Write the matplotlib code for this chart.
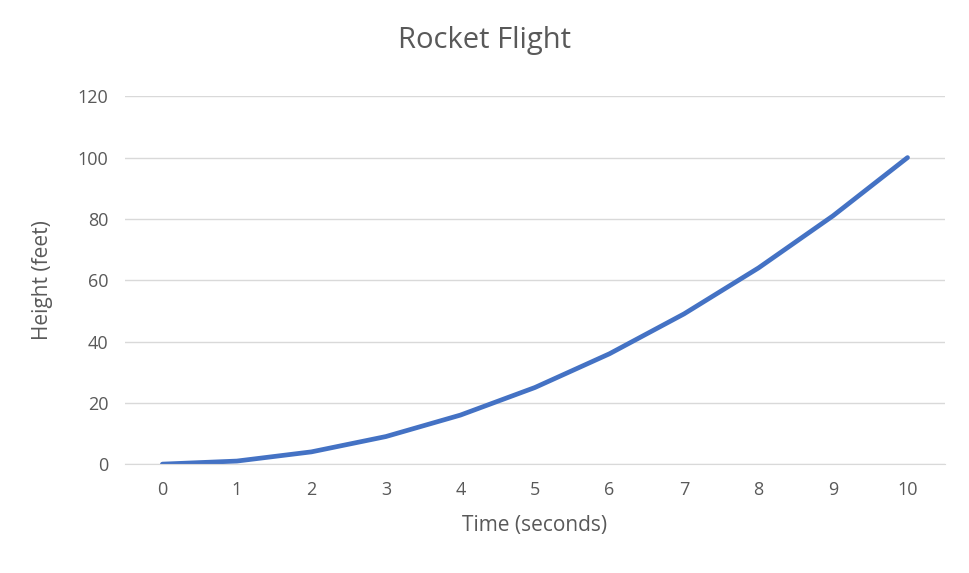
import matplotlib
matplotlib.use("Agg")
import matplotlib.pyplot as plt

time_s = [0, 1, 2, 3, 4, 5, 6, 7, 8, 9, 10]
height_ft = [0, 1, 4, 9, 16, 25, 36, 49, 64, 81, 100]
y_ticks = [0, 20, 40, 60, 80, 100, 120]

plt.rcParams['font.family'] = ['Open Sans', 'DejaVu Sans']
txt = '#595959'
fig = plt.figure(figsize=(9.7, 5.73), dpi=100)
ax = fig.add_axes([0.129, 0.190, 0.845, 0.642])
ax.plot(time_s, height_ft, color='#4472C4', lw=3.4, solid_capstyle='round')
ax.set_xlim(-0.5, 10.5)
ax.set_ylim(0, 120)
ax.set_yticks(y_ticks)
ax.set_xticks(time_s)
ax.grid(axis='y', color='#D9D9D9', lw=1)
ax.set_axisbelow(True)
for s in ['top', 'right', 'left']:
    ax.spines[s].set_visible(False)
ax.spines['bottom'].set_color('#D9D9D9')
ax.tick_params(axis='both', length=0, labelsize=13, colors=txt, pad=12)
ax.set_xlabel('Time (seconds)', fontsize=15, color=txt, labelpad=12)
ax.set_ylabel('Height (feet)', fontsize=15, color=txt, labelpad=18)
fig.suptitle('Rocket Flight', fontsize=21, color=txt, y=0.955)
fig.savefig('out.png', dpi=100)
